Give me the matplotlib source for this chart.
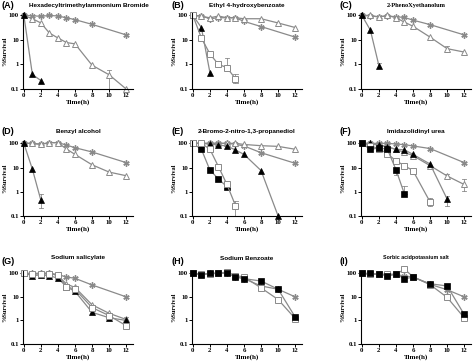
import numpy as np
import matplotlib
matplotlib.use("Agg")
import matplotlib.pyplot as plt
import matplotlib.ticker as mticker

# sampling times
t_all = [0, 1, 2, 3, 4, 5, 6, 8, 10, 12]
t_star = [0, 1, 2, 3, 4, 5, 6, 8, 12]

# (A) Hexadecyltrimethylammonium Bromide
A_star = [100, 97, 91, 100, 94, 80, 67, 43, 16]
A_otri = [100, 73, 49, 19, 12, 7.8, 6.9, 0.93, 0.38, 0.1]
A_ftri_t = [0, 1, 2]
A_ftri = [100, 0.39, 0.22]

# (B) Ethyl 4-hydroxybenzoate
B_star = [100, 95, 73, 80, 80, 80, 57, 35, 13]
B_otri = [100, 91, 80, 94, 80, 80, 73, 73, 49, 32]
B_ftri_t = [0, 1, 2]
B_ftri = [100, 32, 0.47]
B_osq_t = [0, 1, 2, 3, 4, 5]
B_osq = [100, 12, 2.7, 1.0, 0.75, 0.26]

# (C) 2-PhenoXyethanolum
C_star = [100, 94, 88, 94, 88, 82, 64, 42, 16]
C_otri = [100, 100, 85, 100, 80, 53, 36, 13, 4.4, 3.2]
C_ftri_t = [0, 1, 2]
C_ftri = [100, 25, 0.9]

# (D) Benzyl alcohol
D_star = [100, 100, 91, 107, 107, 85, 66, 44, 16]
D_otri = [100, 100, 91, 107, 107, 58, 35, 13, 6.5, 4.6]
D_ftri_t = [0, 1, 2]
D_ftri = [100, 8.6, 0.44]

# (E) 2-Bromo-2-nitro-1,3-propanediol
E_star = [100, 100, 100, 100, 100, 91, 78, 41, 15]
E_otri = [100, 100, 100, 100, 100, 100, 90, 80, 75, 57]
E_ftri_t = [0, 2, 3, 4, 5, 6, 8, 10]
E_ftri = [100, 94, 85, 78, 53, 35, 7.5, 0.1]
E_fsq_t = [0, 1, 2, 3, 4]
E_fsq = [100, 57, 7.9, 3.4, 1.6]
E_osq_t = [0, 1, 2, 3, 4, 5]
E_osq = [100, 100, 57, 11, 2.0, 0.27]

# (F) Imidazolidinyl urea
F_star = [100, 100, 100, 100, 94, 88, 78, 61, 16]
F_otri = [100, 91, 86, 71, 56, 42, 31, 12, 4.5, 2.0]
F_ftri_t = [0, 1, 2, 3, 4, 5, 6, 8, 10]
F_ftri = [100, 100, 88, 71, 57, 54, 35, 14, 0.5]
F_osq_t = [0, 1, 2, 3, 4, 5, 6, 8]
F_osq = [100, 78, 61, 37, 19, 12, 7.4, 0.38]
F_fsq_t = [0, 1, 2, 3, 4, 5]
F_fsq = [100, 56, 65, 57, 8.2, 0.8]

# (G) Sodium salicylate
G_star = [100, 100, 100, 100, 88, 70, 61, 32, 10]
G_otri = [100, 94, 100, 100, 80, 35, 25, 4.6, 2.0, 1.1]
G_ftri = [100, 80, 85, 80, 61, 27, 17, 2.2, 1.3, 1.0]
G_osq = [100, 94, 94, 94, 85, 27, 21, 3.5, 1.6, 0.6]

# (H) Sodium Benzoate
H_star = [100, 90, 100, 100, 100, 72, 59, 29, 21, 10]
H_fsq = [100, 85, 100, 100, 100, 70, 59, 47, 21, 1.4]
H_osq = [100, 94, 94, 100, 114, 80, 70, 24, 7.7, 1.2]

# (I) Sorbic acidpotassium salt
I_star = [100, 90, 90, 90, 90, 76, 71, 34, 20, 10]
I_fsq = [100, 100, 93, 76, 90, 60, 67, 36, 29, 1.8]
I_osq = [100, 90, 90, 90, 90, 150, 71, 33, 9.5, 1.3]

titles = ["Hexadecyltrimethylammonium Bromide", "Ethyl 4-hydroxybenzoate",
          "2-PhenoXyethanolum", "Benzyl alcohol", "2-Bromo-2-nitro-1,3-propanediol",
          "Imidazolidinyl urea", "Sodium salicylate", "Sodium Benzoate",
          "Sorbic acidpotassium salt"]
letters = ["(A)", "(B)", "(C)", "(D)", "(E)", "(F)", "(G)", "(H)", "(I)"]

W, H = 474, 361
fig = plt.figure(figsize=(W / 100, H / 100), dpi=100)

col_left = [23, 192, 361]
row_bot = [89, 216, 344]
row_top = [13, 141, 271]
ax_w = 110
title_y = [5, 131, 258]
letter_y = [5, 131, 261]

lc = "#8a8a8a"
styles = {
    "star": dict(marker=(6, 2, 0), ms=4.5, mfc=lc, mec=lc, mew=1.0),
    "otri": dict(marker="^", ms=4.5, mfc="white", mec=lc, mew=0.7),
    "ftri": dict(marker="^", ms=4, mfc="black", mec="black", mew=0.5),
    "osq": dict(marker="s", ms=4.5, mfc="white", mec=lc, mew=0.7),
    "fsq": dict(marker="s", ms=4.5, mfc="black", mec="black", mew=0.5),
}

def draw(ax, t, y, kind, err=None):
    ax.plot(t, y, color=lc, lw=0.9, zorder=2, clip_on=False, **styles[kind])
    if err is not None:
        et, lo, hi = err
        for xx, l, h in zip(et, lo, hi):
            ax.plot([xx, xx], [l, h], color=lc, lw=0.6, zorder=1)
            ax.plot([xx - 0.25, xx + 0.25], [h, h], color=lc, lw=0.6, zorder=1)
            ax.plot([xx - 0.25, xx + 0.25], [l, l], color=lc, lw=0.6, zorder=1)

axes = []
for r in range(3):
    for c in range(3):
        l = col_left[c] / W
        b = 1 - row_bot[r] / H
        h = (row_bot[r] - row_top[r]) / H
        ax = fig.add_axes([l, b, ax_w / W, h])
        axes.append(ax)

# panel A
draw(axes[0], t_star, A_star, "star")
draw(axes[0], t_all, A_otri, "otri", ([10], [0.1], [0.6]))
draw(axes[0], A_ftri_t, A_ftri, "ftri")
# panel B
draw(axes[1], t_star, B_star, "star")
draw(axes[1], t_all, B_otri, "otri")
draw(axes[1], B_ftri_t, B_ftri, "ftri")
draw(axes[1], B_osq_t, B_osq, "osq", ([4, 5], [0.55, 0.17], [1.8, 0.4]))
# panel C
draw(axes[2], t_star, C_star, "star")
draw(axes[2], t_all, C_otri, "otri", ([10], [3.3], [5.8]))
draw(axes[2], C_ftri_t, C_ftri, "ftri", ([2], [0.75], [1.1]))
# panel D
draw(axes[3], t_star, D_star, "star")
draw(axes[3], t_all, D_otri, "otri")
draw(axes[3], D_ftri_t, D_ftri, "ftri", ([2], [0.22], [0.8]))
# panel E
draw(axes[4], t_star, E_star, "star")
draw(axes[4], t_all, E_otri, "otri")
draw(axes[4], E_ftri_t, E_ftri, "ftri")
draw(axes[4], E_fsq_t, E_fsq, "fsq")
draw(axes[4], E_osq_t, E_osq, "osq", ([4, 5], [1.3, 0.1], [2.4, 0.4]))
# panel F
draw(axes[5], t_star, F_star, "star")
draw(axes[5], t_all, F_otri, "otri", ([10, 12], [3.6, 1.1], [5.5, 3.3]))
draw(axes[5], F_ftri_t, F_ftri, "ftri", ([10], [0.25], [0.65]))
draw(axes[5], F_osq_t, F_osq, "osq", ([8], [0.25], [0.55]))
draw(axes[5], F_fsq_t, F_fsq, "fsq", ([4, 5], [5.0, 0.8], [8.2, 1.7]))
# panel G
draw(axes[6], t_star, G_star, "star")
draw(axes[6], t_all, G_otri, "otri")
draw(axes[6], t_all, G_ftri, "ftri")
draw(axes[6], t_all, G_osq, "osq", ([12], [0.45], [1.4]))
# panel H
draw(axes[7], t_all, H_star, "star")
draw(axes[7], t_all, H_osq, "osq")
draw(axes[7], t_all, H_fsq, "fsq")
# panel I
draw(axes[8], t_all, I_star, "star")
draw(axes[8], t_all, I_osq, "osq")
draw(axes[8], t_all, I_fsq, "fsq")

serif = "Liberation Serif"
sans = "Liberation Sans"
for i, ax in enumerate(axes):
    r, c = divmod(i, 3)
    ax.set_yscale("log")
    ax.set_ylim(0.1, 125)
    ax.set_xlim(-0.1, 12.8)
    ax.set_xticks([0, 2, 4, 6, 8, 10, 12])
    ax.set_yticks([0.1, 1, 10, 100])
    ax.yaxis.set_major_formatter(mticker.FixedFormatter(["0.1", "1", "10", "100"]))
    ax.yaxis.set_minor_locator(mticker.NullLocator())
    for s in ["top", "right"]:
        ax.spines[s].set_visible(False)
    for s in ["left", "bottom"]:
        ax.spines[s].set_linewidth(0.8)
    ax.tick_params(length=2, width=0.7, pad=1, labelsize=4.9)
    for lab in ax.get_xticklabels() + ax.get_yticklabels():
        lab.set_fontfamily(serif)
        lab.set_fontweight("bold")
    ax.set_xlabel("Time(h)", fontsize=5, fontfamily=serif, fontweight="bold", labelpad=0.5)
    ax.set_ylabel("%Survival", fontsize=4.6, fontfamily=serif, fontweight="bold", labelpad=1.2)
    tfam = serif if i == 2 else sans
    tx = 0.6 if i == 0 else 0.5
    fig.text((col_left[c] + tx * ax_w) / W, 1 - title_y[r] / H, titles[i],
             fontsize=4.6 if i != 8 else 3.8, fontfamily=tfam, fontweight="bold",
             ha="center", va="center")
    fig.text((col_left[c] - 21) / W, 1 - letter_y[r] / H, letters[i],
             fontsize=6.5, fontweight="bold", fontfamily=sans, va="center", ha="left")

fig.savefig("out.png", dpi=100)
